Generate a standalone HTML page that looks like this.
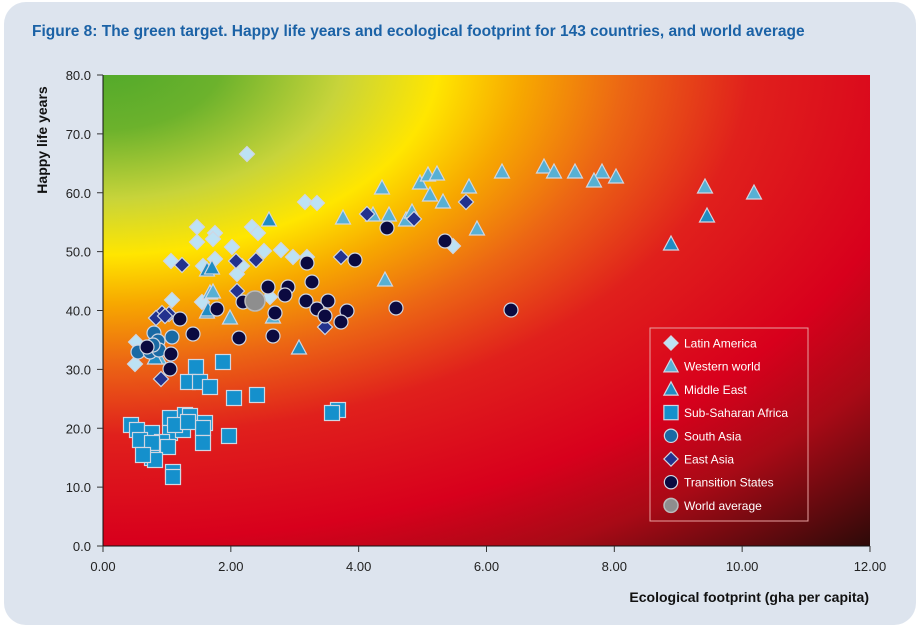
<!DOCTYPE html>
<html><head><meta charset="utf-8"><style>
html,body{margin:0;padding:0;background:#fff;}
svg{display:block;font-family:"Liberation Sans",Arial,sans-serif;}
</style></head><body>
<svg id="s" width="919" height="627" viewBox="0 0 919 627" xmlns="http://www.w3.org/2000/svg">
<defs>
<radialGradient id="g" gradientUnits="userSpaceOnUse" cx="103" cy="60" r="1200" gradientTransform="translate(103 60) scale(1 0.58) translate(-103 -60)">
<stop offset="0" stop-color="#4ea82a"/>
<stop offset="0.1" stop-color="#6cb22c"/>
<stop offset="0.2" stop-color="#c8d43a"/>
<stop offset="0.28" stop-color="#ffe600"/>
<stop offset="0.35" stop-color="#f7a800"/>
<stop offset="0.435" stop-color="#ec6614"/>
<stop offset="0.54" stop-color="#e0201c"/>
<stop offset="0.69" stop-color="#d8001c"/>
<stop offset="0.79" stop-color="#a80a16"/>
<stop offset="0.95" stop-color="#2a0a08"/>
<stop offset="1" stop-color="#200806"/>
</radialGradient>
</defs>
<rect x="4" y="2" width="912" height="623" rx="22" fill="#dde4ee"/>
<text x="32" y="36" font-size="15.5" font-weight="bold" fill="#1b62a6">Figure 8: The green target. Happy life years and ecological footprint for 143 countries, and world average</text>
<rect x="103" y="75" width="767" height="471" fill="url(#g)"/>
<g id="pts"></g>
<g stroke="#111" stroke-width="1" fill="none">
<line x1="103" y1="75" x2="103" y2="546"/>
<line x1="103" y1="546" x2="870" y2="546"/>
</g>
<g id="ax" font-size="13" fill="#222"></g>
<text transform="translate(47,140) rotate(-90)" text-anchor="middle" font-size="14" font-weight="bold" fill="#111">Happy life years</text>
<text x="869" y="602" text-anchor="end" font-size="14" font-weight="bold" fill="#111">Ecological footprint (gha per capita)</text>
<rect x="650" y="328" width="158" height="193" fill="none" stroke="#e8a0a0" stroke-width="1"/>
<g id="leg" font-size="12" fill="#fff"></g>
</svg>
<script>
var NS="http://www.w3.org/2000/svg";
function el(t,a,p){var e=document.createElementNS(NS,t);for(var k in a)e.setAttribute(k,a[k]);p.appendChild(e);return e;}
var C={la:"#bde2f4",ww:"#57b0d4",me:"#1f8cc3",ss:"#1590cc",sa:"#1a6aa4",ea:"#23328e",ts:"#0b0a40",wa:"#8e8e8e"};
function mk(type,x,y,p,s){s=s||1;var st={stroke:"#d0d6e2","stroke-width":1.2};
 if(type=="la"||type=="ea"){var d=7.5*s;el("polygon",Object.assign({points:(x)+","+(y-d)+" "+(x+d)+","+y+" "+x+","+(y+d)+" "+(x-d)+","+y,fill:C[type]},st),p);}
 else if(type=="ww"||type=="me"){var h=8*s;el("polygon",Object.assign({points:x+","+(y-h)+" "+(x+7.5*s)+","+(y+6*s)+" "+(x-7.5*s)+","+(y+6*s),fill:C[type]},st),p);}
 else if(type=="ss"){var r=7.5*s;el("rect",Object.assign({x:x-r,y:y-r,width:2*r,height:2*r,fill:C[type]},st),p);}
 else if(type=="wa"){el("circle",{cx:x,cy:y,r:10*s,fill:C.wa,stroke:"#bbb","stroke-width":1.5},p);}
 else {el("circle",Object.assign({cx:x,cy:y,r:7*s,fill:C[type]},st),p);}
}
var P=document.getElementById("pts");
var data={
la:[[247,154],[305,202],[317,203],[197,227],[215,233],[197,242],[213,239],[252,227],[258,233],[232,247],[264,251],[281,250],[293,257],[171,261],[215,259],[203,266],[242,266],[237,274],[307,257],[202,302],[270,297],[453,246],[135,364],[136,342],[172,300]],
ww:[[502,172],[544,167],[554,172],[575,172],[602,172],[594,181],[616,177],[705,187],[754,193],[382,188],[420,183],[428,175],[437,174],[430,195],[443,202],[469,187],[343,218],[373,215],[389,215],[406,220],[412,212],[477,229],[385,280],[210,293],[273,317],[159,358],[230,318],[213,292]],
me:[[269,220],[207,270],[207,312],[299,348],[707,216],[671,244],[212,268],[155,358],[208,310]],
ss:[[196,367],[223,362],[188,382],[200,382],[210,387],[234,398],[257,395],[338,410],[332,413],[131,425],[137,430],[152,433],[140,440],[170,418],[185,415],[190,416],[205,423],[170,433],[183,430],[203,428],[162,442],[168,447],[152,443],[203,443],[229,436],[152,458],[155,460],[173,472],[173,477],[175,425],[188,422],[143,455]],
sa:[[154,333],[158,341],[172,337],[138,352],[150,352],[159,350],[153,345]],
ea:[[182,265],[236,261],[256,260],[341,257],[367,214],[414,219],[466,202],[237,291],[162,313],[169,314],[156,318],[325,327],[161,379],[165,316]],
ts:[[180,319],[217,309],[193,334],[239,338],[273,336],[268,287],[288,287],[285,295],[307,263],[312,282],[306,301],[328,301],[317,309],[325,316],[347,311],[341,322],[355,260],[387,228],[445,241],[396,308],[511,310],[243,302],[275,313],[147,347],[171,354],[170,369]]
};
["la","ww","me","ss","sa","ea","ts"].forEach(function(t){data[t].forEach(function(q){mk(t,q[0],q[1],P);});});
mk("wa",255,301,P);
var A=document.getElementById("ax");
for(var i=0;i<=8;i++){var y=546-i*58.875;el("line",{x1:97,y1:y,x2:103,y2:y,stroke:"#333"},A);var t=el("text",{x:91,y:y+5,"text-anchor":"end"},A);t.textContent=(i*10).toFixed(1);}
for(var i=0;i<=6;i++){var x=103+i*127.83;el("line",{x1:x,y1:546,x2:x,y2:552,stroke:"#333"},A);var t=el("text",{x:x,y:571,"text-anchor":"middle"},A);t.textContent=(i*2).toFixed(2);}
var L=document.getElementById("leg");
var items=[["la","Latin America"],["ww","Western world"],["me","Middle East"],["ss","Sub-Saharan Africa"],["sa","South Asia"],["ea","East Asia"],["ts","Transition States"],["wa","World average"]];
items.forEach(function(it,i){var y=343+i*23.2;mk(it[0],671,y,L,it[0]=="wa"?0.7:0.95);var t=el("text",{x:684,y:y+4.5},L);t.textContent=it[1];});
</script>
</body></html>
